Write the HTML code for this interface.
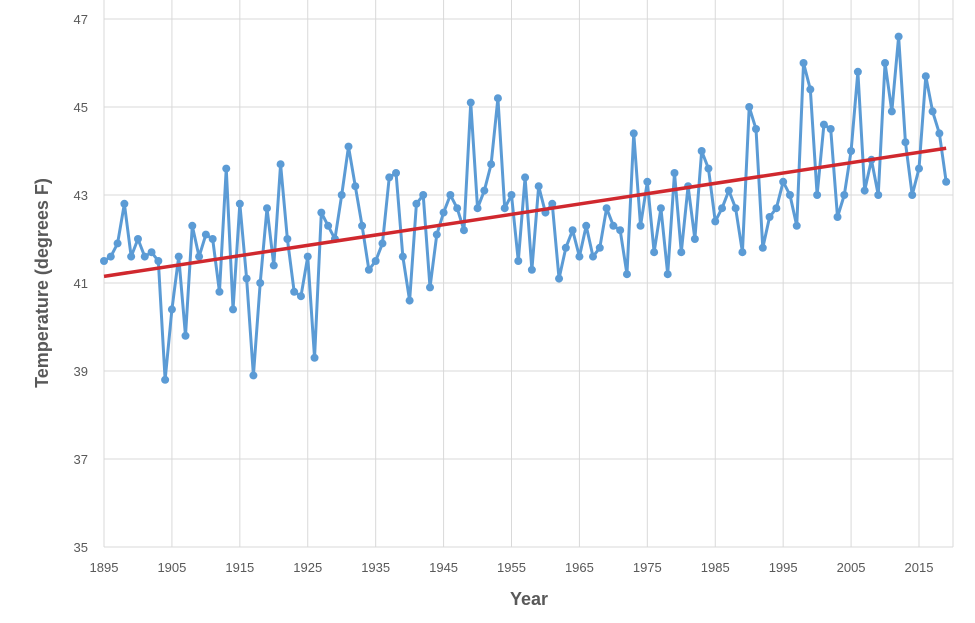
<!DOCTYPE html>
<html><head><meta charset="utf-8"><style>
html,body{margin:0;padding:0;background:#fff;}
svg{display:block;font-family:"Liberation Sans",sans-serif;}
</style></head><body>
<svg id="chart" width="975" height="623"></svg>
<script>
const years = [];
for (let y = 1895; y <= 2019; y++) years.push(y);
const temps = [41.5,41.6,41.9,42.8,41.6,42.0,41.6,41.7,41.5,38.8,
40.4,41.6,39.8,42.3,41.6,42.1,42.0,40.8,43.6,40.4,
42.8,41.1,38.9,41.0,42.7,41.4,43.7,42.0,40.8,40.7,
41.6,39.3,42.6,42.3,42.0,43.0,44.1,43.2,42.3,41.3,
41.5,41.9,43.4,43.5,41.6,40.6,42.8,43.0,40.9,42.1,
42.6,43.0,42.7,42.2,45.1,42.7,43.1,43.7,45.2,42.7,
43.0,41.5,43.4,41.3,43.2,42.6,42.8,41.1,41.8,42.2,
41.6,42.3,41.6,41.8,42.7,42.3,42.2,41.2,44.4,42.3,
43.3,41.7,42.7,41.2,43.5,41.7,43.2,42.0,44.0,43.6,
42.4,42.7,43.1,42.7,41.7,45.0,44.5,41.8,42.5,42.7,
43.3,43.0,42.3,46.0,45.4,43.0,44.6,44.5,42.5,43.0,
44.0,45.8,43.1,43.8,43.0,46.0,44.9,46.6,44.2,43.0,
43.6,45.7,44.9,44.4,43.3];
const yTicks = [35,37,39,41,43,45,47];
const xTicks = [1895,1905,1915,1925,1935,1945,1955,1965,1975,1985,1995,2005,2015];

const L=104,R=953,T=19,B=547;
const xs = v => L + (v-1895)*(919-104)/120;
const ys = v => B - (v-35)*(B-T)/12;
const NS="http://www.w3.org/2000/svg";
const svg=document.getElementById('chart');
function mk(tag, attrs, parent){const e=document.createElementNS(NS,tag);for(const k in attrs)e.setAttribute(k,attrs[k]);(parent||svg).appendChild(e);return e;}

const grid=mk('g',{});


yTicks.forEach(v=>{
  const l=mk('line',{x1:L,x2:R,y1:ys(v),y2:ys(v),stroke:'#d9d9d9','stroke-width':1},grid);
  
  
  const t=mk('text',{x:L-16,y:ys(v)+5,'text-anchor':'end','font-size':13,fill:'#595959'});
  t.textContent=v;
  
  
});
xTicks.forEach(v=>{
  const l=mk('line',{x1:xs(v),x2:xs(v),y1:T-19,y2:B,stroke:'#d9d9d9','stroke-width':1},grid);
  
  
  const t=mk('text',{x:xs(v),y:B+25,'text-anchor':'middle','font-size':13,fill:'#595959'});
  t.textContent=v;
  
  
});
const rl=mk('line',{x1:R,x2:R,y1:0,y2:B,stroke:'#d9d9d9','stroke-width':1},grid);



// series
const pts=years.map((y,i)=>xs(y)+','+ys(temps[i])).join(' ');
const line=mk('polyline',{points:pts,fill:'none',stroke:'#5B9BD5','stroke-width':3,'stroke-linejoin':'round'});


years.forEach((y,i)=>{
  const c=mk('circle',{cx:xs(y),cy:ys(temps[i]),r:4,fill:'#5B9BD5'});
  
  
});

// trend line (least squares)
const n=years.length;
let mx=0,my=0;years.forEach((y,i)=>{mx+=y;my+=temps[i];});mx/=n;my/=n;
let sxy=0,sxx=0;years.forEach((y,i)=>{sxy+=(y-mx)*(temps[i]-my);sxx+=(y-mx)*(y-mx);});
const slope=sxy/sxx, icpt=my-slope*mx;
const tr=mk('line',{x1:xs(1895),y1:ys(icpt+slope*1895),x2:xs(2019),y2:ys(icpt+slope*2019),stroke:'#D0282E','stroke-width':3.5});



const xt=mk('text',{x:529,y:605,'text-anchor':'middle','font-size':18,'font-weight':'bold',fill:'#595959'});
xt.textContent='Year';


const yt=mk('text',{x:0,y:0,'text-anchor':'middle','font-size':18,'font-weight':'bold',fill:'#595959',transform:'translate(48,283) rotate(-90)'});
yt.textContent='Temperature (degrees F)';


</script>
</body></html>
